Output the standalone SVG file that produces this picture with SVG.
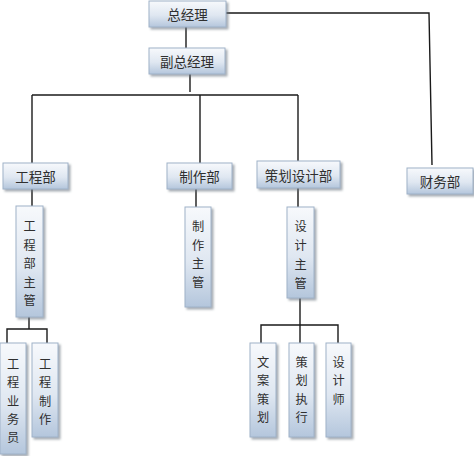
<svg xmlns="http://www.w3.org/2000/svg" width="474" height="456" viewBox="0 0 474 456">
<defs>
<linearGradient id="g" x1="0" y1="0" x2="0" y2="1">
<stop offset="0" stop-color="#f7f9fc"/>
<stop offset="0.55" stop-color="#dfe7f1"/>
<stop offset="1" stop-color="#b4c6dc"/>
</linearGradient>
<filter id="sh" x="-20%" y="-20%" width="150%" height="150%">
<feDropShadow dx="2" dy="2" stdDeviation="0.8" flood-color="#6b7480" flood-opacity="0.6"/>
</filter>
</defs>
<style>
.b{fill:url(#g);stroke:#9fb2c8;stroke-width:1;filter:url(#sh)}
.t{font-family:"Noto Sans CJK SC","Noto Sans CJK JP",sans-serif;font-size:13.5px;fill:#2f2f2f;text-anchor:middle;dominant-baseline:central}
.v{font-size:12.2px}
.c{fill:none;stroke:#1a1a1a;stroke-width:1.4}
</style>
<rect width="474" height="456" fill="#ffffff"/>
<g id="connectors">
<path class="c" d="M186 27V48"/>
<path class="c" d="M226 13H429L432 165"/>
<path class="c" d="M190 74V92"/>
<path class="c" d="M32 95H298"/>
<path class="c" d="M32 95V163"/>
<path class="c" d="M200 95V163"/>
<path class="c" d="M298 95V161"/>
<path class="c" d="M32 189V206"/>
<path class="c" d="M196 189V207"/>
<path class="c" d="M298 188V207"/>
<path class="c" d="M29 317V329"/>
<path class="c" d="M7 343V329H47V343"/>
<path class="c" d="M300 298V343"/>
<path class="c" d="M261 343V325H338V343"/>
</g>
<g id="n-zjl"><rect class="b" x="149" y="1" width="77" height="26"/><text class="t" x="187.5" y="14">总经理</text></g>
<g id="n-fzjl"><rect class="b" x="149" y="48" width="76" height="26"/><text class="t" x="187" y="61">副总经理</text></g>
<g id="n-gcb"><rect class="b" x="3" y="163" width="65" height="26"/><text class="t" x="35.5" y="176">工程部</text></g>
<g id="n-zzb"><rect class="b" x="167" y="163" width="65" height="26"/><text class="t" x="199.5" y="176">制作部</text></g>
<g id="n-chsjb"><rect class="b" x="257" y="161" width="83" height="27"/><text class="t" x="298.5" y="174.5">策划设计部</text></g>
<g id="n-cwb"><rect class="b" x="407" y="168" width="66" height="26"/><text class="t" x="440" y="181">财务部</text></g>
<g id="n-gcbzg"><rect class="b" x="16" y="206" width="27" height="111"/><text class="t v"><tspan x="29.5" y="226">工</tspan><tspan x="29.5" y="244.5">程</tspan><tspan x="29.5" y="263">部</tspan><tspan x="29.5" y="281.5">主</tspan><tspan x="29.5" y="300">管</tspan></text></g>
<g id="n-zzzg"><rect class="b" x="185" y="207" width="26" height="100"/><text class="t v"><tspan x="198" y="226">制</tspan><tspan x="198" y="244.5">作</tspan><tspan x="198" y="263">主</tspan><tspan x="198" y="281.5">管</tspan></text></g>
<g id="n-sjzg"><rect class="b" x="287" y="207" width="27" height="91"/><text class="t v"><tspan x="300.5" y="226">设</tspan><tspan x="300.5" y="245">计</tspan><tspan x="300.5" y="264">主</tspan><tspan x="300.5" y="283">管</tspan></text></g>
<g id="n-gcywy"><rect class="b" x="0" y="343" width="26" height="111"/><text class="t v"><tspan x="13" y="364">工</tspan><tspan x="13" y="382.3">程</tspan><tspan x="13" y="400.6">业</tspan><tspan x="13" y="418.9">务</tspan><tspan x="13" y="437.2">员</tspan></text></g>
<g id="n-gczz"><rect class="b" x="32" y="343" width="26" height="94"/><text class="t v"><tspan x="45" y="364">工</tspan><tspan x="45" y="382.3">程</tspan><tspan x="45" y="400.6">制</tspan><tspan x="45" y="418.9">作</tspan></text></g>
<g id="n-wach"><rect class="b" x="250" y="343" width="26" height="94"/><text class="t v"><tspan x="263" y="362">文</tspan><tspan x="263" y="380.3">案</tspan><tspan x="263" y="398.6">策</tspan><tspan x="263" y="416.9">划</tspan></text></g>
<g id="n-chzx"><rect class="b" x="289" y="343" width="25" height="94"/><text class="t v"><tspan x="301.5" y="362">策</tspan><tspan x="301.5" y="380.3">划</tspan><tspan x="301.5" y="398.6">执</tspan><tspan x="301.5" y="416.9">行</tspan></text></g>
<g id="n-sjs"><rect class="b" x="326" y="343" width="25" height="94"/><text class="t v"><tspan x="338.5" y="362">设</tspan><tspan x="338.5" y="380.3">计</tspan><tspan x="338.5" y="398.6">师</tspan></text></g>
</svg>
